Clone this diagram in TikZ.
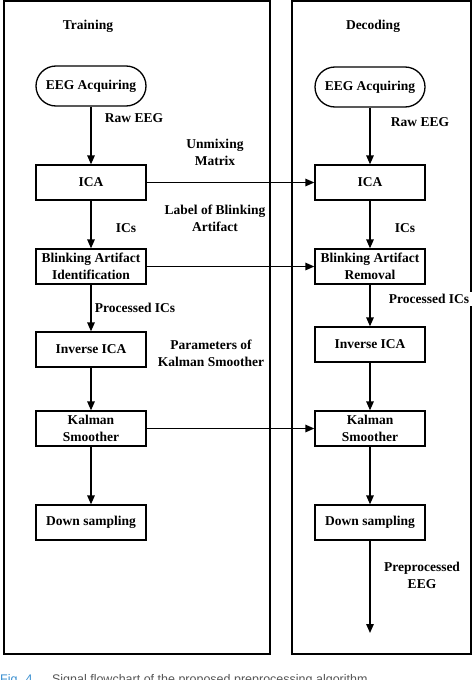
\documentclass[tikz,border=0pt]{standalone}
\usepackage{fontspec}
\setmainfont{Liberation Serif}
\newfontfamily\capfont{Liberation Sans}
\usetikzlibrary{arrows.meta}
\definecolor{capblue}{HTML}{3A8FD0}
\definecolor{capgray}{HTML}{555555}
\begin{document}
\begin{tikzpicture}[x=1pt,y=-1pt,
  every node/.style={font=\fontsize{13.5}{17}\selectfont\bfseries},
  procbox/.style={draw,line width=1.3pt,minimum width=110pt,minimum height=35pt,align=center,inner sep=1pt},
  termbox/.style={draw,line width=1.3pt,minimum width=110pt,minimum height=40pt,rounded corners=20pt,align=center},
  lbl/.style={align=center,fill=white,inner sep=2pt},
  frame/.style={draw,line width=1.5pt},
  flow/.style={line width=1.4pt,-{Triangle[length=9pt,width=7.5pt]}}]
\useasboundingbox (0,0) rectangle (474,680);
\clip (0,0) rectangle (474,680);
% frames
\draw[frame] (4,1) rectangle (270,654);
\draw[frame] (292,1) rectangle (471,654);
% titles
\node (ttl) at (88,26) {Training};
\node (dtl) at (373,26) {Decoding};
% training column
\node[termbox] (tA) at (91,86) {EEG Acquiring};
\node[procbox] (tICA) at (91,182.5) {ICA};
\node[procbox] (tBAI) at (91,266.5) {Blinking Artifact\\Identification};
\node[procbox] (tInv) at (91,349.5) {Inverse ICA};
\node[procbox] (tKal) at (91,428.5) {Kalman\\Smoother};
\node[procbox] (tDown) at (91,522.5) {Down sampling};
% decoding column
\node[termbox] (dA) at (370,87) {EEG Acquiring};
\node[procbox] (dICA) at (370,182.5) {ICA};
\node[procbox] (dBAR) at (370,266.5) {Blinking Artifact\\Removal};
\node[procbox] (dInv) at (370,344.5) {Inverse ICA};
\node[procbox] (dKal) at (370,428.5) {Kalman\\Smoother};
\node[procbox] (dDown) at (370,522.5) {Down sampling};
\coordinate (dEnd) at (370,633);
% vertical flows
\draw[flow] (tA) -- (tICA);
\draw[flow] (tICA) -- (tBAI);
\draw[flow] (tBAI) -- (tInv);
\draw[flow] (tInv) -- (tKal);
\draw[flow] (tKal) -- (tDown);
\draw[flow] (dA) -- (dICA);
\draw[flow] (dICA) -- (dBAR);
\draw[flow] (dBAR) -- (dInv);
\draw[flow] (dInv) -- (dKal);
\draw[flow] (dKal) -- (dDown);
\draw[flow] (dDown) -- (dEnd);
% horizontal flows
\draw[flow] (tICA) -- (dICA);
\draw[flow] (tBAI) -- (dBAR);
\draw[flow] (tKal) -- (dKal);
% labels
\node[lbl] (l1) at (134,118) {Raw EEG};
\node[lbl] (l2) at (420,122) {Raw EEG};
\node[lbl] (l3) at (215,152.5) {Unmixing\\Matrix};
\node[lbl] (l4) at (215,218.5) {Label of Blinking\\Artifact};
\node[lbl] (l5) at (126,228) {ICs};
\node[lbl] (l6) at (405,228) {ICs};
\node[lbl] (l7) at (135,308) {Processed ICs};
\node[lbl,inner xsep=4pt] (l8) at (429,299) {Processed ICs};
\node[lbl] (l9) at (211,353.5) {Parameters of\\Kalman Smoother};
\node[lbl] (l10) at (422,575.5) {Preprocessed\\EEG};
% caption (cut off at the bottom edge, as in the reference)
\node[anchor=base west,inner sep=0pt,font=\capfont\fontsize{12.5}{14}\selectfont] (cap) at (0,683.5)
  {\textcolor{capblue}{Fig. 4.}\hspace{16pt}\textcolor{capgray}{Signal flowchart of the proposed preprocessing algorithm.}};
\end{tikzpicture}
\end{document}
